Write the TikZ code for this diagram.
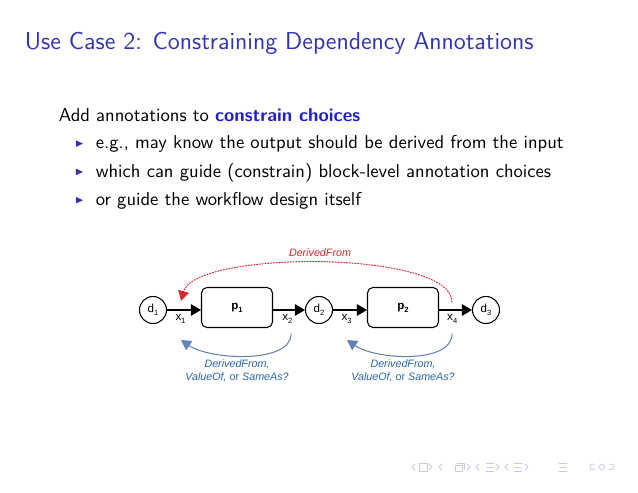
\documentclass[tikz,border=0pt]{standalone}
\usepackage{fontspec}
\newfontfamily\diagfont{Liberation Sans}
\usetikzlibrary{arrows.meta,positioning}

\definecolor{struct}{rgb}{0.2,0.2,0.7}
\definecolor{keyblue}{RGB}{30,30,205}
\definecolor{derivred}{RGB}{215,40,45}
\definecolor{annoblue}{RGB}{60,100,165}
\definecolor{labelblue}{RGB}{40,100,175}
\definecolor{navcol}{RGB}{200,200,235}

% indice baixo nos rótulos
\newcommand{\lowidx}[1]{\raisebox{-0.45ex}{\fontsize{4.3}{4}\selectfont#1}}

\tikzset{
  datanode/.style={circle,draw,line width=0.6pt,minimum size=5.4mm,inner sep=0pt,
    font=\diagfont\fontsize{6.6}{7}\selectfont},
  procbox/.style={rectangle,draw,line width=0.6pt,rounded corners=1.1mm,
    minimum width=14.2mm,minimum height=8mm,font=\diagfont\bfseries\fontsize{6.6}{7}\selectfont},
  flow/.style={line width=0.6pt,-{Triangle[length=2mm,width=2.3mm]}},
  portlabel/.style={below,inner sep=2.4pt,font=\diagfont\fontsize{6.6}{7}\selectfont},
  redlink/.style={derivred,densely dotted,line width=0.6pt,-{Triangle[length=2mm,width=2.2mm]}},
  bluelink/.style={annoblue!80,line width=0.6pt,-{Triangle[length=2mm,width=2.2mm]}},
  annolabel/.style={align=center,inner sep=0pt,font=\diagfont\itshape\fontsize{6.1}{7.6}\selectfont},
  bullet/.style={struct,fill=struct},
  slidetext/.style={anchor=base west,inner sep=0pt,font=\sffamily\fontsize{10.6}{12}\selectfont},
  navmark/.style={navcol,line width=0.45pt}
}

\begin{document}
\begin{tikzpicture}[x=0.2mm,y=-0.2mm,line cap=round,line join=round]
\useasboundingbox[fill=white] (0,0) rectangle (638,493);

%---------------------------
% título e texto
%---------------------------
\node[anchor=base west,inner sep=0pt,struct,font=\sffamily\fontsize{13.9}{16}\selectfont]
  (title) at (24.5,49.3) {Use Case 2: Constraining Dependency Annotations};
\node[slidetext] (lead) at (58.5,121.7)
  {Add annotations to \textcolor{keyblue}{\bfseries constrain choices}};
\foreach \yy/\txt [count=\i] in {149/{e.g., may know the output should be derived from the input},
    177.3/{which can guide (constrain) block-level annotation choices},
    205.6/{or guide the workflow design itself}}{
  \fill[bullet] (76,\yy-8.6) -- (83,\yy-5.4) -- (76,\yy-2.2) -- cycle;
  \node[slidetext] (item\i) at (95.5,\yy) {\txt};
}

%---------------------------
% workflow
%---------------------------
\node[datanode] (d1) at (153,310) {d\lowidx{1}};
\node[procbox]  (p1) at (237,307.5) {p\lowidx{1}};
\node[datanode] (d2) at (319,310) {d\lowidx{2}};
\node[procbox]  (p2) at (403,307.5) {p\lowidx{2}};
\node[datanode] (d3) at (486,310) {d\lowidx{3}};

\draw[flow] (d1) -- node[portlabel,pos=0.4] (x1) {x\lowidx{1}} (d1 -| p1.west);
\draw[flow] (p1.east |- d2) -- node[portlabel,pos=0.45] (x2) {x\lowidx{2}} (d2);
\draw[flow] (d2) -- node[portlabel,pos=0.4] (x3) {x\lowidx{3}} (d2 -| p2.west);
\draw[flow] (p2.east |- d3) -- node[portlabel,pos=0.4] (x4) {x\lowidx{4}} (d3);

%---------------------------
% anotações
%---------------------------
\coordinate (redstart) at (452,302);
\coordinate (redend) at (181,301);
\draw[redlink] (redstart) .. controls (452,250) and (195,250) .. (redend);
\node[annolabel,derivred] (redlbl) at (320,253) {DerivedFrom};

\coordinate (blueA) at (291,334);
\coordinate (blueB) at (452,334);
\draw[bluelink] (blueA) .. controls (291,364) and (210,360) .. (181,340);
\draw[bluelink] (blueB) .. controls (452,364) and (376,360) .. (347,340);
\node[annolabel,labelblue] (lblA) at (237,371)
  {DerivedFrom,\\ValueOf, {\upshape or} SameAs?};
\node[annolabel,labelblue] (lblB) at (403,371)
  {DerivedFrom,\\ValueOf, {\upshape or} SameAs?};

%---------------------------
% símbolos de navegação
%---------------------------
\begin{scope}[navmark]
  \foreach \xx in {413,440,477,506}{
    \draw (\xx+2,464) -- (\xx-1,467) -- (\xx+2,470);
  }
  \foreach \xx in {431,469,498,527}{
    \draw (\xx-2,464) -- (\xx+1,467) -- (\xx-2,470);
  }
  \draw (419,463) rectangle (427,471);
  \draw (455,465) rectangle (462,471);
  \draw (457,463) -- (464,463) -- (464,469);
  \foreach \xx in {490,518,563}{
    \draw (\xx-4,463) -- (\xx+4,463) (\xx-3,467) -- (\xx+3,467) (\xx-4,471) -- (\xx+4,471);
  }
  \draw (593,467) ++(40:3) arc[start angle=40,end angle=300,radius=3];
  \draw (602,467) circle[radius=2.8];
  \draw (611,467) ++(140:3) arc[start angle=140,end angle=-120,radius=3];
\end{scope}

\end{tikzpicture}
\end{document}
